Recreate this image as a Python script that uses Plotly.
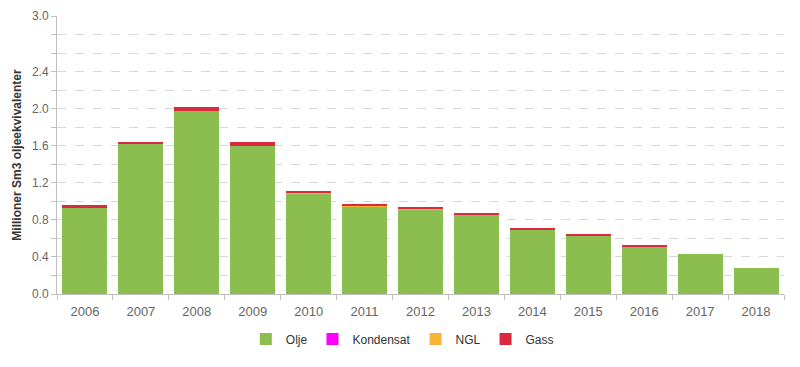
import plotly.graph_objects as go

years = [2006, 2007, 2008, 2009, 2010, 2011, 2012, 2013, 2014, 2015, 2016, 2017, 2018]
olje = [0.93, 1.62, 1.975, 1.60, 1.086, 0.946, 0.917, 0.86, 0.698, 0.626, 0.51, 0.435, 0.28]
kondensat = [0, 0, 0, 0, 0, 0, 0, 0, 0, 0, 0, 0, 0]
ngl = [0.002, 0.002, 0.003, 0.002, 0.002, 0.002, 0.002, 0.002, 0.002, 0.002, 0.002, 0.0, 0.0]
gass = [0.028, 0.016, 0.044, 0.035, 0.028, 0.028, 0.020, 0.012, 0.011, 0.010, 0.011, 0.0, 0.0]

ytickvals = [0.0, 0.2, 0.4, 0.6, 0.8, 1.0, 1.2, 1.4, 1.6, 1.8, 2.0, 2.2, 2.4, 2.6, 2.8, 3.0]
yticktext = ["0.0", "", "0.4", "", "0.8", "", "1.2", "", "1.6", "", "2.0", "", "2.4", "", "", "3.0"]

series = [
    ("Olje", olje, "#8BBD4F"),
    ("Kondensat", kondensat, "#FF00FF"),
    ("NGL", ngl, "#F7B538"),
    ("Gass", gass, "#DC2940"),
]

fig = go.Figure()
for name, vals, col in series:
    fig.add_trace(go.Bar(
        x=years, y=vals, name=name,
        marker=dict(color=col, line=dict(width=0)),
    ))

fig.update_layout(
    barmode="stack",
    bargap=0.195,
    width=800, height=367,
    margin=dict(l=49, r=24, t=8, b=81, autoexpand=False),
    plot_bgcolor="white",
    paper_bgcolor="white",
    font=dict(family="Liberation Sans, Arial, sans-serif", size=12, color="#666666"),
    legend=dict(
        orientation="h", x=0.475, xanchor="center", y=-0.162, yanchor="middle",
        font=dict(size=12, color="#333333"),
        traceorder="normal",
    ),
    showlegend=True,
)
fig.update_xaxes(
    range=[2005.5, 2018.5],
    tickmode="array", tickvals=years, ticktext=[str(y) for y in years],
    ticks="", showgrid=False, automargin=False, ticklabelstandoff=5,
    showline=True, linecolor="#C0C0C0", linewidth=1,
    tickfont=dict(size=13, color="#666666"),
    minor=dict(ticks="outside", tick0=2005.5, dtick=1, ticklen=5, tickcolor="#C0C0C0", showgrid=False),
)
fig.update_yaxes(
    range=[0, 3.0],
    tickmode="array", tickvals=ytickvals, ticktext=yticktext,
    ticks="outside", ticklen=5, tickcolor="#C0C0C0",
    showgrid=True, gridcolor="#D8D8D8", griddash="dash", gridwidth=1,
    showline=True, linecolor="#C0C0C0", linewidth=1,
    zeroline=False, automargin=False,
    tickfont=dict(size=12, color="#666666"),
    title=dict(text="<b>Millioner Sm3 oljeekvivalenter</b>", font=dict(size=12, color="#333333"), standoff=7),
)

fig.write_html("out.html")
